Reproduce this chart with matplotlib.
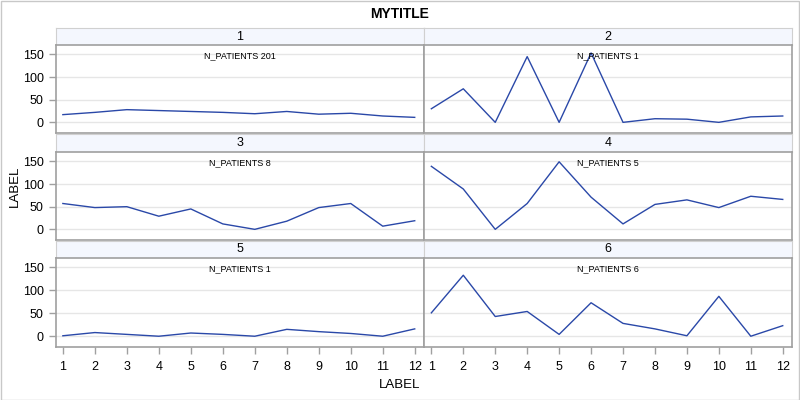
import matplotlib
matplotlib.use("Agg")
import matplotlib.pyplot as plt
from matplotlib.patches import Rectangle

plt.rcParams["font.family"] = ["Liberation Sans", "DejaVu Sans"]

# data
months = [1, 2, 3, 4, 5, 6, 7, 8, 9, 10, 11, 12]
groups = ["1", "2", "3", "4", "5", "6"]
n_patients = [201, 1, 8, 5, 1, 6]
g1 = [17, 22, 28, 26, 24, 22, 19, 24, 18, 20, 14, 11]
g2 = [30, 74, 0, 145, 0, 153, 0, 8, 7, 0, 12, 14]
g3 = [57, 48, 50, 29, 45, 12, 0, 18, 48, 57, 7, 19]
g4 = [139, 89, 0, 57, 149, 71, 12, 55, 65, 48, 73, 66]
g5 = [1, 8, 4, 0, 7, 4, 0, 15, 10, 6, 0, 16]
g6 = [51, 133, 43, 54, 4, 73, 28, 16, 1, 87, 0, 23]
series = [g1, g2, g3, g4, g5, g6]

W, H = 800, 400
fig = plt.figure(figsize=(8, 4), dpi=100)
fig.patch.set_facecolor("white")
fig.add_artist(Rectangle((0.5 / W, 0.5 / H), 1 - 1.5 / W, 1 - 1.5 / H, transform=fig.transFigure,
                         fill=False, edgecolor="#c8c8c8", lw=1))

def box(x0, y0, x1, y1):
    # pixel box (top-left origin) -> figure fraction
    return [x0 / W, 1 - y1 / H, (x1 - x0) / W, (y1 - y0) / H]

cols = [(55.5, 424), (424, 792)]
rows = [(28, 45, 133), (134, 152, 240), (241, 258, 347)]
line_col = "#2a48a8"
frame_col = "#a0a0a0"

for i, vals in enumerate(series):
    r, c = divmod(i, 2)
    x0, x1 = cols[c]
    ht, hb, pb = rows[r]

    # strip header
    hax = fig.add_axes(box(x0, ht, x1, hb))
    hax.set_facecolor("#f4f7fe")
    hax.set_xticks([])
    hax.set_yticks([])
    for s in hax.spines.values():
        s.set_color("#d0d0d0")
    hax.text(0.5, 0.5, groups[i], ha="center", va="center", fontsize=9, transform=hax.transAxes)

    ax = fig.add_axes(box(x0, hb, x1, pb))
    ax.plot(months, vals, color=line_col, lw=1)
    ax.set_xlim(0.77, 12.29)
    ax.set_ylim(-23.5, 170.6)
    ax.set_yticks([0, 50, 100, 150])
    ax.set_xticks(months)
    ax.grid(axis="y", color="#e6e6e6", lw=1)
    ax.set_axisbelow(True)
    for s in ax.spines.values():
        s.set_color(frame_col)
        s.set_linewidth(1.2)
    ax.tick_params(axis="both", colors=frame_col, labelcolor="black", labelsize=9, length=5, width=1)
    ax.tick_params(axis="x", pad=5)
    if c == 1:
        ax.tick_params(axis="y", left=False, labelleft=False)
    if r < 2:
        ax.tick_params(axis="x", bottom=False, labelbottom=False)
    ax.text(0.5, 0.93, "N_PATIENTS %d" % n_patients[i], ha="center", va="top",
            fontsize=6.5, transform=ax.transAxes)

fig.text(400 / W, 1 - 14 / H, "MYTITLE", ha="center", va="center", fontsize=10, fontweight="bold")
fig.text(400 / W, 1 - 385 / H, "LABEL", ha="center", va="center", fontsize=9.5)
fig.text(15 / W, 1 - 186 / H, "LABEL", ha="center", va="center", fontsize=9.5, rotation=90)

fig.savefig("out.png", dpi=100)
